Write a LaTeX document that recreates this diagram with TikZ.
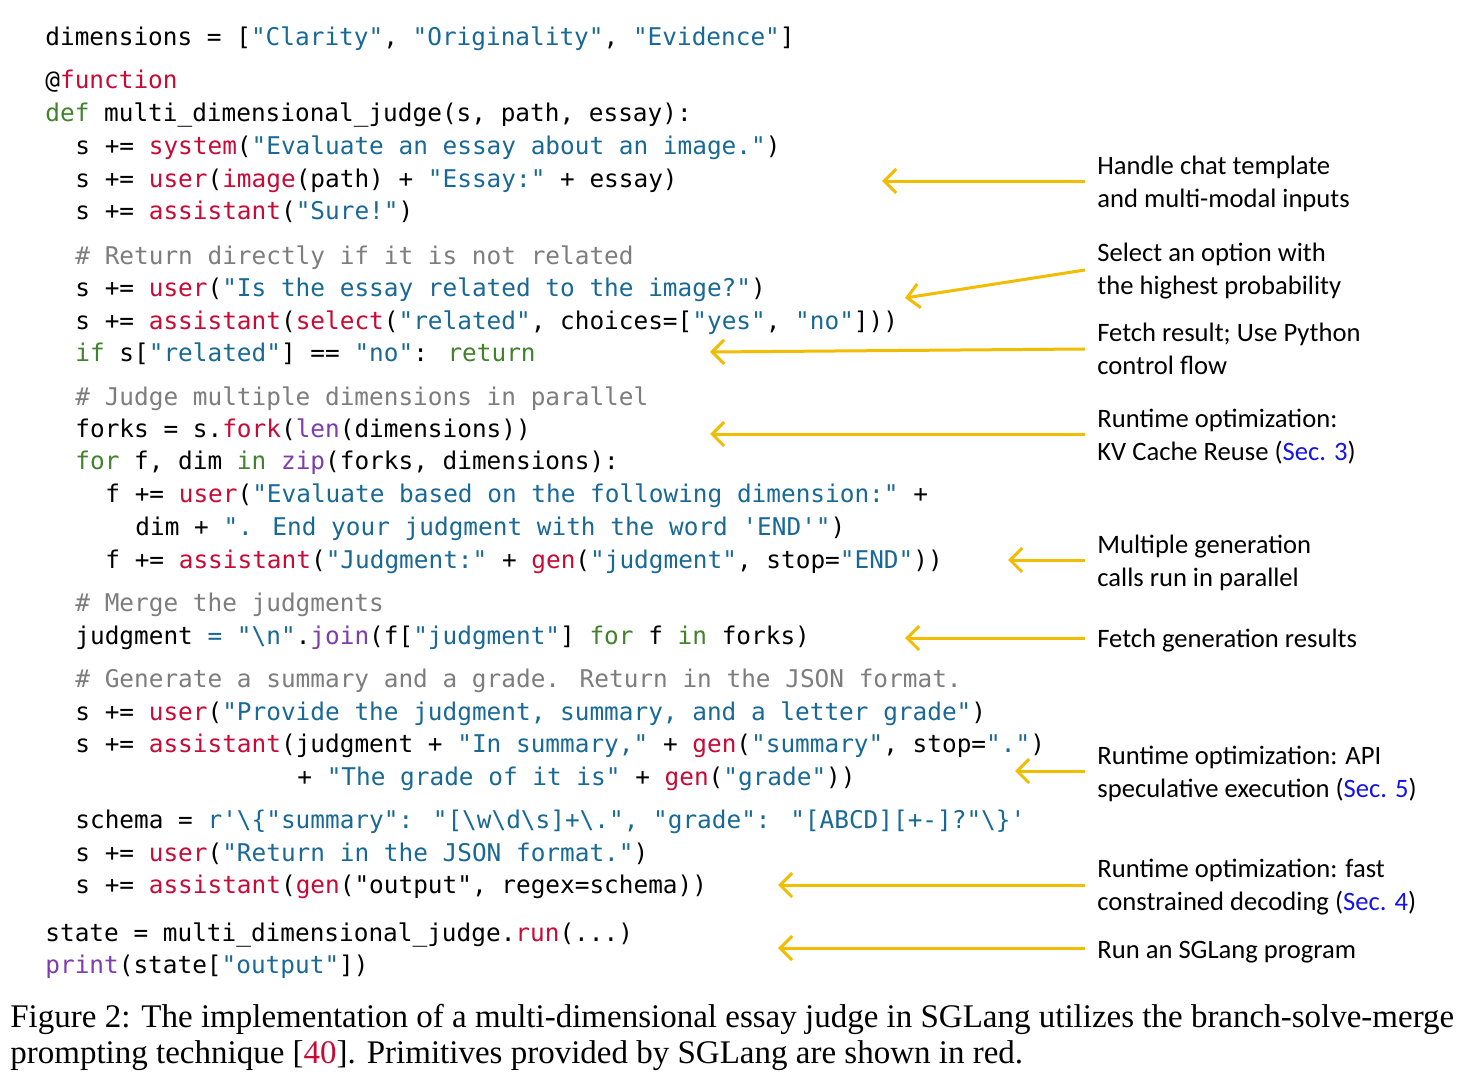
\documentclass[tikz,border=0pt]{standalone}
\usepackage{fontspec}
\usetikzlibrary{arrows.meta}
\setmainfont{Liberation Serif}
\newfontfamily\codefont{DejaVu Sans Mono}[Scale=1]
\newfontfamily\notefont{Carlito}
\definecolor{kred}{RGB}{200,10,55}
\definecolor{kstr}{RGB}{25,105,150}
\definecolor{kgrn}{RGB}{65,130,45}
\definecolor{kpur}{RGB}{125,60,175}
\definecolor{kgry}{RGB}{125,125,125}
\definecolor{arr}{RGB}{242,188,0}
\definecolor{secblue}{RGB}{20,20,230}
\newcommand\kR[1]{\textcolor{kred}{#1}}
\newcommand\kS[1]{\textcolor{kstr}{#1}}
\newcommand\kG[1]{\textcolor{kgrn}{#1}}
\newcommand\kP[1]{\textcolor{kpur}{#1}}
\newcommand\kC[1]{\textcolor{kgry}{#1}}
\newcommand\bs{\textbackslash}
\begin{document}
\begin{tikzpicture}[x=0.5pt,y=-0.5pt,
  code/.style={anchor=base west,inner sep=0pt,font=\codefont\fontsize{12.2}{14}\selectfont},
  note/.style={anchor=base west,inner sep=0pt,align=left,font=\notefont\fontsize{13.3}{16.5}\selectfont},
  captxt/.style={anchor=base west,inner sep=0pt,font=\fontsize{16.5}{18}\selectfont},
  ann/.style={draw=arr,line width=1.5pt,-{Straight Barb[length=6pt,width=12pt,line width=1.5pt]}}]
\useasboundingbox[fill=white] (0,0) rectangle (1478,1086);
% code
\node[code] (c1) at (45,46) {dimensions = [\kS{"Clarity"}, \kS{"Originality"}, \kS{"Evidence"}]};
\node[code] (c2) at (45,89) {@\kR{function}};
\node[code] (c3) at (45,122) {\kG{def} multi\_dimensional\_judge(s, path, essay):};
\node[code] (c4) at (75,155) {s += \kR{system}(\kS{"Evaluate an essay about an image."})};
\node[code] (c5) at (75,187) {s += \kR{user}(\kR{image}(path) + \kS{"Essay:"} + essay)};
\node[code] (c6) at (75,220) {s += \kR{assistant}(\kS{"Sure!"})};
\node[code] (c7) at (75,264) {\kC{\# Return directly if it is not related}};
\node[code] (c8) at (75,296) {s += \kR{user}(\kS{"Is the essay related to the image?"})};
\node[code] (c9) at (75,329) {s += \kR{assistant}(\kR{select}(\kS{"related"}, choices=[\kS{"yes"}, \kS{"no"}]))};
\node[code] (c10) at (75,361) {\kG{if} s[\kS{"related"}] == \kS{"no"}: \kG{return}};
\node[code] (c11) at (75,405) {\kC{\# Judge multiple dimensions in parallel}};
\node[code] (c12) at (75,437) {forks = s.\kR{fork}(\kP{len}(dimensions))};
\node[code] (c13) at (75,469) {\kG{for} f, dim \kG{in} \kP{zip}(forks, dimensions):};
\node[code] (c14) at (105,502) {f += \kR{user}(\kS{"Evaluate based on the following dimension:"} +};
\node[code] (c15) at (135,535) {dim + \kS{". End your judgment with the word 'END'"})};
\node[code] (c16) at (105,568) {f += \kR{assistant}(\kS{"Judgment:"} + \kR{gen}(\kS{"judgment"}, stop=\kS{"END"}))};
\node[code] (c17) at (75,611) {\kC{\# Merge the judgments}};
\node[code] (c18) at (75,644) {judgment \kS{=} \kS{"\bs n"}.\kP{join}(f[\kS{"judgment"}] \kG{for} f \kG{in} forks)};
\node[code] (c19) at (75,687) {\kC{\# Generate a summary and a grade. Return in the JSON format.}};
\node[code] (c20) at (75,720) {s += \kR{user}(\kS{"Provide the judgment, summary, and a letter grade"})};
\node[code] (c21) at (75,752) {s += \kR{assistant}(judgment + \kS{"In summary,"} + \kR{gen}(\kS{"summary"}, stop=\kS{"."})};
\node[code] (c22) at (297,785) {+ \kS{"The grade of it is"} + \kR{gen}(\kS{"grade"}))};
\node[code] (c23) at (75,828) {schema = \kS{r'\bs\{"summary": "[\bs w\bs d\bs s]+\bs.", "grade": "[ABCD][+-]?"\bs\}'}};
\node[code] (c24) at (75,861) {s += \kR{user}(\kS{"Return in the JSON format."})};
\node[code] (c25) at (75,893) {s += \kR{assistant}(\kR{gen}("output", regex=schema))};
\node[code] (c26) at (45,941) {state = multi\_dimensional\_judge.\kR{run}(...)};
\node[code] (c27) at (45,973) {\kP{print}(state[\kS{"output"}])};
% notes (anchored at the baseline of the last line)
\node[note] (n1) at (1097,207) {Handle chat template\\and multi-modal inputs};
\node[note] (n2) at (1097,294) {Select an option with\\the highest probability};
\node[note] (n3) at (1097,374) {Fetch result; Use Python\\control flow};
\node[note] (n4) at (1097,460) {Runtime optimization:\\KV Cache Reuse (\textcolor{secblue}{Sec. 3})};
\node[note] (n5) at (1097,586) {Multiple generation\\calls run in parallel};
\node[note] (n6) at (1097,647) {Fetch generation results};
\node[note] (n7) at (1097,797) {Runtime optimization: API\\speculative execution (\textcolor{secblue}{Sec. 5})};
\node[note] (n8) at (1097,910) {Runtime optimization: fast\\constrained decoding (\textcolor{secblue}{Sec. 4})};
\node[note] (n9) at (1097,958) {Run an SGLang program};
% arrows
\coordinate (a1s) at (1085,181); \coordinate (a1e) at (882,181);
\coordinate (a2s) at (1085,270); \coordinate (a2e) at (905,298);
\coordinate (a3s) at (1085,349); \coordinate (a3e) at (710,352);
\coordinate (a4s) at (1085,434); \coordinate (a4e) at (710,434);
\coordinate (a5s) at (1085,560); \coordinate (a5e) at (1008,560);
\coordinate (a6s) at (1085,638); \coordinate (a6e) at (905,638);
\coordinate (a7s) at (1085,771); \coordinate (a7e) at (1015,771);
\coordinate (a8s) at (1085,885); \coordinate (a8e) at (778,885);
\coordinate (a9s) at (1085,948); \coordinate (a9e) at (778,948);
\foreach \i in {1,...,9} {\draw[ann] (a\i s) -- (a\i e);}
% caption
\node[captxt] (cap1) at (10,1027) {Figure 2: The implementation of a multi-dimensional essay judge in SGLang utilizes the branch-solve-merge};
\node[captxt] (cap2) at (10,1063) {prompting technique [\textcolor{kred}{40}]. Primitives provided by SGLang are shown in red.};
\end{tikzpicture}
\end{document}
